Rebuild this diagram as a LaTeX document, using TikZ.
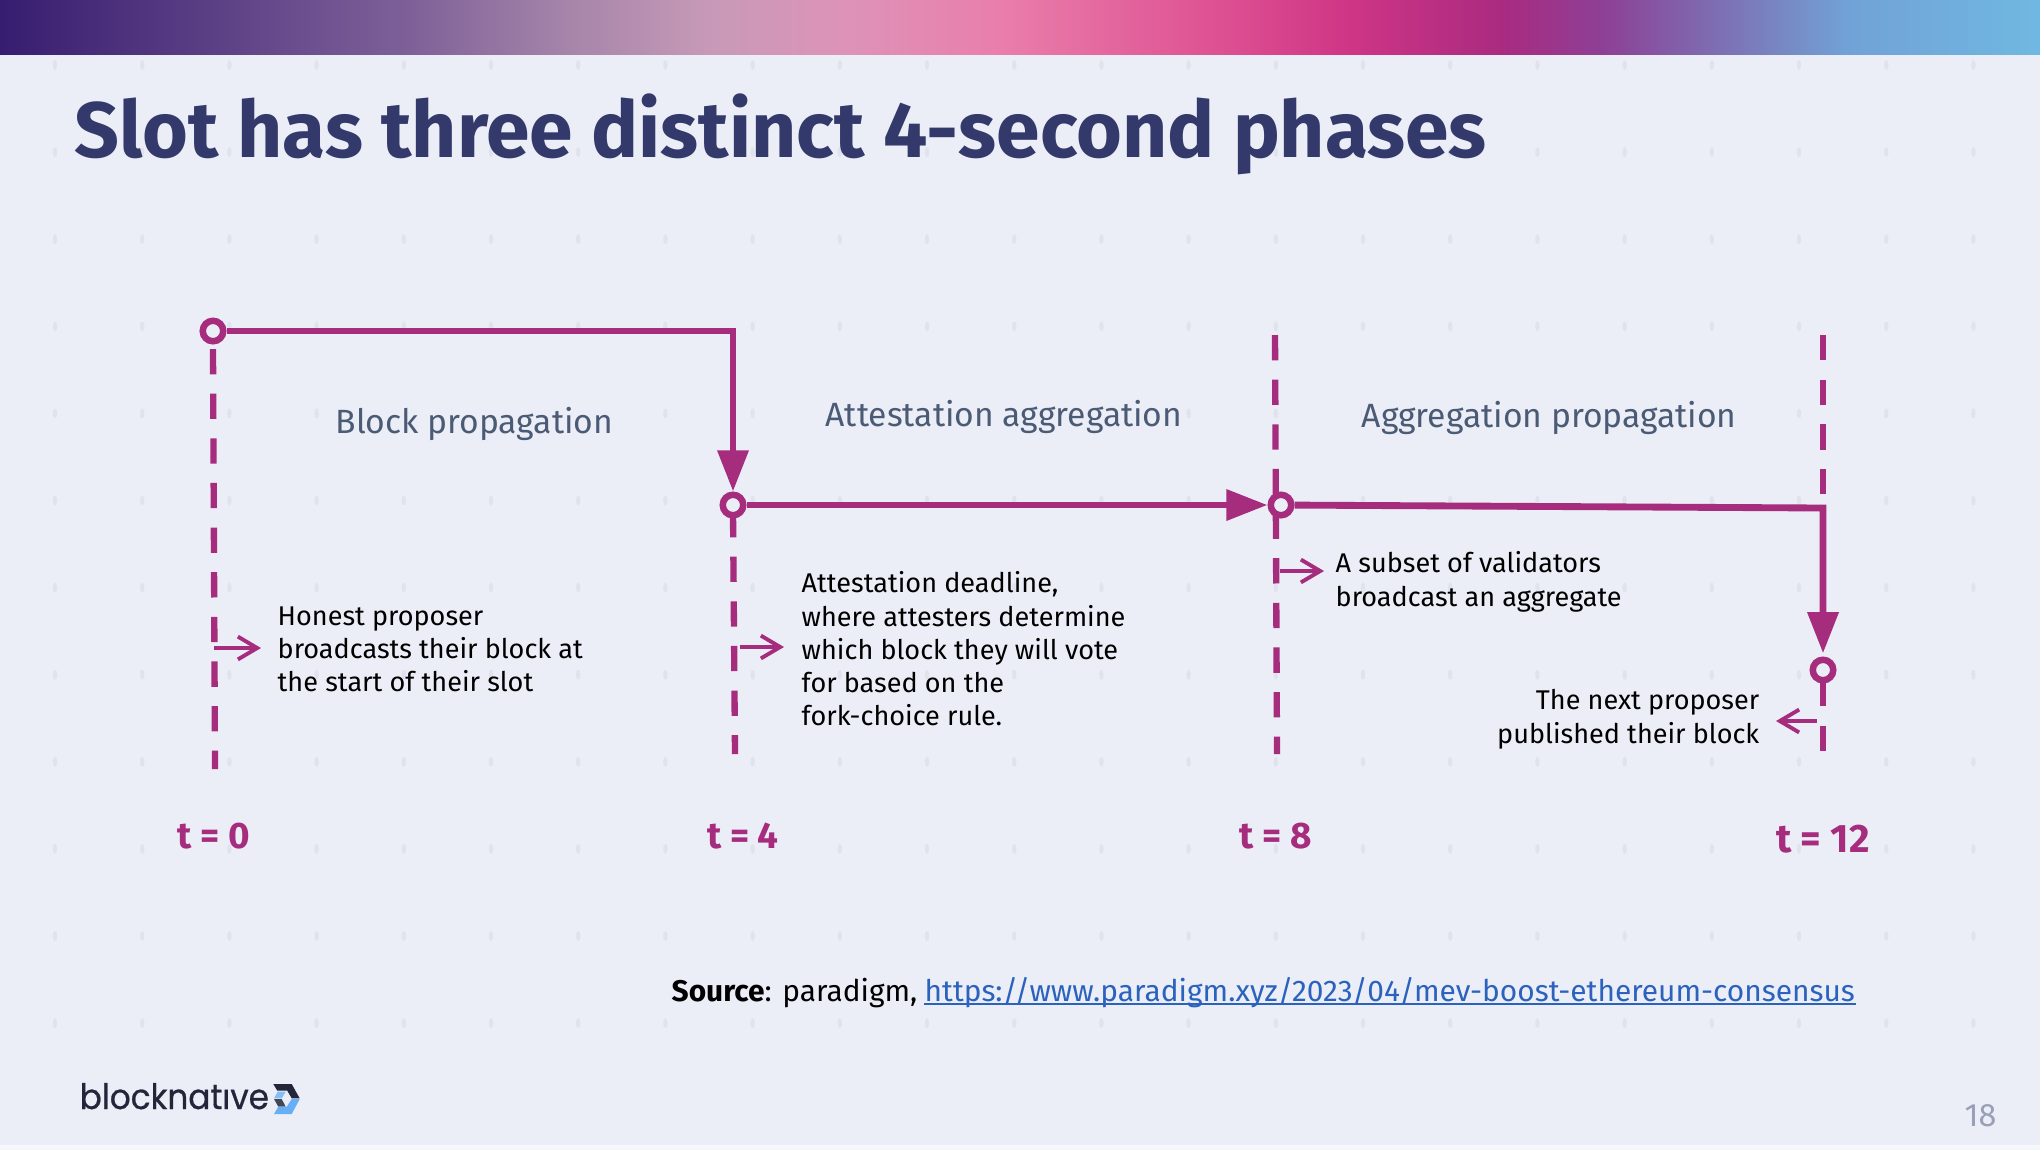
\documentclass[tikz,border=0pt]{standalone}
\usepackage{fontspec}
\usepackage{tikz}
\usetikzlibrary{arrows.meta}
\setmainfont{Fira Sans}
\newfontfamily\logofont[FakeBold=0.6,FakeStretch=0.93]{Poppins}

\definecolor{slidebg}{HTML}{EBEEF6}
\definecolor{dotgray}{HTML}{E0E2ED}
\definecolor{slotpink}{HTML}{A62C7E}
\definecolor{titleblue}{HTML}{333A6B}
\definecolor{phasegray}{HTML}{4B5A75}
\definecolor{linkblue}{HTML}{2B62BE}
\definecolor{numgray}{HTML}{9A9FB8}
\definecolor{logodark}{HTML}{23263A}
\definecolor{logoblue}{HTML}{66AEF5}

\definecolor{barA}{HTML}{371D70}
\definecolor{barB}{HTML}{7D5F98}
\definecolor{barC}{HTML}{A585A9}
\definecolor{barD}{HTML}{C89AB8}
\definecolor{barE}{HTML}{DD93B8}
\definecolor{barF}{HTML}{E97EAB}
\definecolor{barG}{HTML}{DF5594}
\definecolor{barH}{HTML}{CF3585}
\definecolor{barI}{HTML}{A92B80}
\definecolor{barJ}{HTML}{8E3F95}
\definecolor{barK}{HTML}{7F68AE}
\definecolor{barL}{HTML}{71A2D6}
\definecolor{barM}{HTML}{70B8E2}
\pgfdeclarehorizontalshading{topbar}{100bp}{
  color(0bp)=(barA); color(25bp)=(barA); color(34.9bp)=(barB); color(38.9bp)=(barC);
  color(42.5bp)=(barD); color(45.7bp)=(barE); color(49.5bp)=(barF); color(54.4bp)=(barG);
  color(58.1bp)=(barH); color(61.8bp)=(barI); color(64.2bp)=(barJ); color(66.7bp)=(barK);
  color(70.3bp)=(barL); color(75bp)=(barM); color(100bp)=(barM)}

\tikzset{
  slotdot/.style={circle,draw=slotpink,fill=slidebg,line width=1.85pt,minimum size=5.83pt,inner sep=0pt},
  flow/.style={draw=slotpink,line width=1.95pt,-{Triangle[length=11.7pt,width=8.5pt]}},
  deadline/.style={draw=slotpink,line width=1.8pt,dash pattern=on 7.2pt off 5.5pt},
  pointer/.style={draw=slotpink,line width=1.1pt,-{Straight Barb[length=5.5pt,width=6.5pt]}},
  phaselabel/.style={inner sep=0pt,anchor=base west,fill=slidebg,text=phasegray,font=\fontsize{9.57}{11}\selectfont},
  notelabel/.style={inner sep=0pt,align=left,text=black,font=\fontsize{7.7}{9.45}\selectfont},
  timelabel/.style={inner sep=0pt,anchor=base,text=slotpink,font=\fontsize{10.5}{12}\selectfont\bfseries}
}

\begin{document}
\begin{tikzpicture}[x=0.1mm,y=-0.1mm]
    % Slide background and the dot grid
    \fill[slidebg] (0,0) rectangle (2040,1150);
    \fill[slidebg!50!white] (0,1145) rectangle (2040,1150);
    \foreach \col in {0,...,22}
        \foreach \row in {0,...,11}
            \fill[dotgray] ({55+87.2*\col},{65+87.1*\row}) ellipse (2.2 and 5);

    % Gradient bar at the top
    \shade[shading=topbar] (0,0) rectangle (2040,54);

    % Title
    \node[inner sep=0pt,anchor=base west,text=titleblue,font=\fontsize{22.35}{26}\selectfont\bfseries] (slidetitle) at (74,157) {Slot has three distinct 4-second phases};

    % Dashed lines for the four deadlines
    \coordinate (topzero) at (213,349);
    \coordinate (botzero) at (215,769);
    \coordinate (topfour) at (733,512);
    \coordinate (botfour) at (735,754);
    \coordinate (topeight) at (1275,335);
    \coordinate (boteight) at (1277,754);
    \coordinate (toptwelve) at (1823,335);
    \coordinate (midtwelve) at (1823,494);
    \coordinate (lowtwelve) at (1823,681);
    \coordinate (bottwelve) at (1823,752);
    \draw[deadline] (topzero) -- (botzero);
    \draw[deadline] (topfour) -- (botfour);
    \draw[deadline] (topeight) -- (boteight);
    \draw[deadline] (toptwelve) -- (midtwelve);
    \draw[deadline] (lowtwelve) -- (bottwelve);

    % Circles on the slot path
    \node[slotdot] (dotzero) at (213,331) {};
    \node[slotdot] (dotfour) at (733,505) {};
    \node[slotdot] (doteight) at (1281,505) {};
    \node[slotdot] (dottwelve) at (1823,670) {};

    % The path through the slot
    \coordinate (cornerfour) at (733,331);
    \coordinate (cornertwelve) at (1823,508);
    \draw[flow] (dotzero) -- (cornerfour) -- (dotfour);
    \draw[flow] (dotfour) -- (doteight);
    \draw[flow,shorten >=0.9pt] (doteight) -- (cornertwelve) -- (dottwelve);

    % Phase names
    \node[phaselabel] (phaseblock) at (335,433) {Block propagation};
    \node[phaselabel] (phaseattest) at (825,426) {Attestation aggregation};
    \node[phaselabel] (phaseaggr) at (1361,427) {Aggregation propagation};

    % Notes
    \node[notelabel,anchor=north west] (noteproposer) at (277,606) {Honest proposer\\broadcasts their block at\\the start of their slot};
    \node[notelabel,anchor=north west] (notedeadline) at (801,571) {Attestation deadline,\\where attesters determine\\which block they will vote\\for based on the\\fork-choice rule.};
    \node[notelabel,anchor=north west] (notesubset) at (1335,551) {A subset of validators\\broadcast an aggregate};
    \node[notelabel,anchor=north east,align=right] (notenext) at (1760,689) {The next proposer\\published their block};

    % Small arrows next to the notes
    \coordinate (pointzero) at (214,648);
    \coordinate (tipzero) at (261,648);
    \coordinate (pointfour) at (740,647);
    \coordinate (tipfour) at (784,647);
    \coordinate (pointeight) at (1280,571);
    \coordinate (tipeight) at (1324,571);
    \coordinate (pointtwelve) at (1817,721);
    \coordinate (tiptwelve) at (1776,721);
    \draw[pointer] (pointzero) -- (tipzero);
    \draw[pointer] (pointfour) -- (tipfour);
    \draw[pointer] (pointeight) -- (tipeight);
    \draw[pointer] (pointtwelve) -- (tiptwelve);

    % Time labels
    \node[timelabel] (timezero) at (214,848) {t = 0};
    \node[timelabel] (timefour) at (743,848) {t = 4};
    \node[timelabel] (timeeight) at (1276,848) {t = 8};
    \node[timelabel,font=\fontsize{11.3}{13}\selectfont\bfseries] (timetwelve) at (1823,852) {t = 12};

    % Source line
    \node[inner sep=0pt,anchor=base west,text=black,font=\fontsize{8.5}{10}\selectfont] (sourceline) at (671,1001) {\textbf{Source}: paradigm,};
    \node[inner sep=0pt,anchor=base west,text=linkblue,font=\fontsize{8.5}{10}\selectfont] (linkline) at (924,1001) {https://www.paradigm.xyz/2023/04/mev-boost-ethereum-consensus};
    \draw[linkblue,line width=.6pt] ([yshift=-.9pt]linkline.base west) -- ([yshift=-.9pt]linkline.base east);

    % Logo
    \node[inner sep=0pt,anchor=base west,text=logodark,font=\logofont\fontsize{10}{12}\selectfont] (logoname) at (79,1109) {blocknat\i ve};
    \fill[logodark] (273.3,1084) -- (291.7,1084) -- (299.7,1098.3) -- (291.7,1098.3) -- (287.3,1090.7) -- (277.3,1090.7) -- cycle;
    \fill[logoblue!80!white] (274,1098.3) -- (277.7,1091.7) -- (285.7,1091.7) -- (281.7,1098.3) -- cycle;
    \fill[logodark!85!white] (274,1099) -- (281.7,1099) -- (285.7,1106.7) -- (278.3,1106.7) -- cycle;
    \fill[logoblue] (274,1114) -- (291.7,1114) -- (299.7,1099) -- (291.7,1099) -- (286.7,1106.7) -- (278.3,1106.7) -- cycle;

    % Page number
    \node[inner sep=0pt,anchor=base west,text=numgray,font=\fontsize{9.2}{11}\selectfont] (pagenum) at (1964,1126) {18};
\end{tikzpicture}
\end{document}
